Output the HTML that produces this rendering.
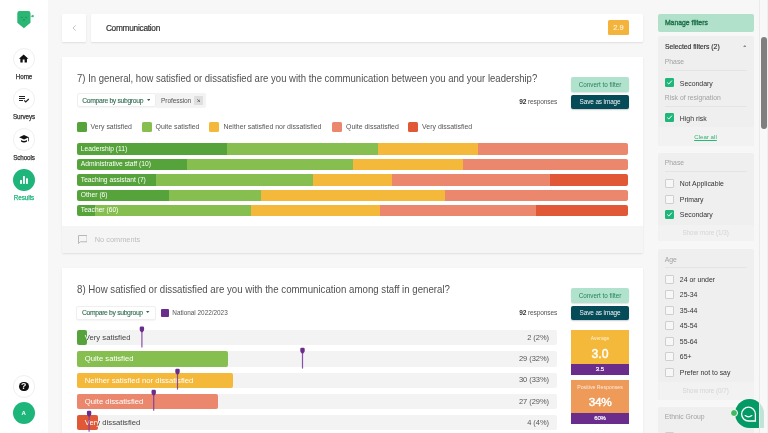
<!DOCTYPE html>
<html><head><meta charset="utf-8">
<style>
*{box-sizing:border-box;margin:0;padding:0}
html,body{width:768px;height:433px;overflow:hidden;background:#f7f7f7;font-family:"Liberation Sans",sans-serif;color:#555}
.a{position:absolute}
.t{position:absolute;white-space:nowrap;line-height:1}
#side{position:absolute;left:0;top:0;width:48px;height:433px;background:#fff}
.nav{position:absolute;left:12.5px;width:22.5px;height:22.5px;border-radius:50%;border:1px solid #f0f0f0;background:#fff}
.navl{position:absolute;left:0;width:48px;text-align:center;font-size:6.3px;letter-spacing:-0.1px;color:#333;line-height:1;-webkit-text-stroke:.25px currentColor}
.card{position:absolute;background:#fff;box-shadow:0 1px 2px rgba(0,0,0,.10);border-radius:2px}
.card.q{border-radius:0 0 2px 2px}
.btn1{position:absolute;background:#b1e2cd;color:#26835a;font-size:6.3px;padding-top:1.1px;text-align:center;border-radius:2px;box-shadow:0 1px 1.5px rgba(0,0,0,.12)}
.btn2{position:absolute;background:#064c58;color:#eef5f5;font-size:6.4px;letter-spacing:-0.1px;padding-top:.8px;text-align:center;border-radius:2px;box-shadow:0 1px 1.5px rgba(0,0,0,.2)}
.cmp{position:absolute;background:#fff;border:1px solid #efefef;border-radius:2px;box-shadow:0 1px 1px rgba(0,0,0,.04)}
.cmp span{position:absolute;font-size:6.8px;letter-spacing:-0.34px;color:#2f6b50;-webkit-text-stroke:.1px #2f6b50;line-height:1;white-space:nowrap}
.sq{position:absolute;width:10px;height:10px;border-radius:1.5px;margin-top:.4px}
.lg{position:absolute;margin-top:.8px;font-size:6.95px;color:#555;line-height:1;white-space:nowrap}
.bar{position:absolute;left:76.8px;width:551.7px;height:11.3px;border-radius:2px;overflow:hidden;display:flex}
.bar div{height:100%}
.bar span{position:absolute;left:4px;top:2.2px;font-size:6.7px;color:#fff;line-height:1;white-space:nowrap}
.dg{background:#57a33b}.lgn{background:#86be4f}.yl{background:#f4b83a}.sa{background:#ea876c}.rd{background:#e15836}
.trk{position:absolute;left:76.9px;width:480px;height:15.3px;background:#f3f3f3;border-radius:2px}
.fill{position:absolute;left:0;top:0;height:100%;border-radius:2px;overflow:hidden}
.lbl{position:absolute;left:7.9px;top:4.2px;font-size:7.7px;line-height:1;white-space:nowrap}
.cnt{position:absolute;right:7.9px;top:3.9px;font-size:7.5px;letter-spacing:-0.05px;line-height:1;color:#555;white-space:nowrap}
.mk{position:absolute;width:5px;height:21px}
.fp{position:absolute;left:657.8px;width:95.8px;background:#efefef;border-radius:2px}
.fh{position:absolute;left:7px;font-size:6.8px;color:#a2a2a2;line-height:1;white-space:nowrap}
.sep{position:absolute;left:7px;right:7px;height:1px;background:#e4e4e4}
.cb{position:absolute;left:7px;width:9px;height:9px;border:1px solid #cfcfcf;border-radius:1px;background:#f7f7f7}
.cb.on{background:#1fb679;border-color:#1fb679}
.cb.on svg{position:absolute;left:-1px;top:-1px}
.cl{position:absolute;left:22px;font-size:6.9px;color:#333;line-height:1;white-space:nowrap}
.sm{position:absolute;left:0;right:0;background:#f2f2f2;text-align:center;font-size:6.3px;color:#d5d5d5;line-height:1}
</style></head><body>
<div id="root" style="position:absolute;left:0;top:0;width:768px;height:433px;background:#f7f7f7;will-change:transform;overflow:hidden">

<!-- SIDEBAR -->
<div id="side">
  <svg class="a" style="left:0;top:0" width="40" height="32" viewBox="0 0 40 32">
    <path d="M19.8 11h8.4a2.3 2.3 0 0 1 2.3 2.3v9.4L23.9 28.2 17.3 22.7V13.3A2.3 2.3 0 0 1 19.6 11z" fill="#2bb673"/>
    <path d="M30.2 16.9 32.2 16.1" stroke="#7fd3a8" stroke-width="1.3"/>
    <path d="M32.8 14.8 34.1 16.1 32.8 17.4 31.5 16.1z" fill="#2bb673"/>
    <path d="M21 17.4h1.5M25.4 17.4h1.5" stroke="#1c9a5c" stroke-width=".9" stroke-linecap="round"/>
    <path d="M22.7 19.3h2.4q0 1.5-1.2 1.5t-1.2-1.5z" fill="#1c9a5c"/>
  </svg>

  <div class="nav" style="top:47.8px"></div>
  <svg class="a" style="left:18.2px;top:52.8px" width="11.3" height="11.3" viewBox="0 0 24 24"><path d="M10 20v-6h4v6h5v-8h3L12 3 2 12h3v8z" fill="#111"/></svg>
  <div class="navl" style="top:74.2px">Home</div>

  <div class="nav" style="top:87.8px"></div>
  <svg class="a" style="left:19px;top:95px" width="11" height="9" viewBox="0 0 11 9"><path d="M0 1.5h6M0 3.5h6M0 5.5h4" stroke="#222" stroke-width="1"/><path d="M5.2 5.4 6.7 6.9 9.8 4" stroke="#222" stroke-width="1.2" fill="none"/></svg>
  <div class="navl" style="top:114.4px">Surveys</div>

  <div class="nav" style="top:128px"></div>
  <svg class="a" style="left:18.8px;top:134.6px" width="10.5" height="8.5" viewBox="0 0 10.5 8.5"><path d="M5 0 .2 2.2 5 4.5 9.9 2.2z" fill="#111"/><path d="M2 5.1Q5 6.9 8 5.1V6.6Q5 8.5 2 6.6z" fill="#111"/><path d="M9.6 2.3v4" stroke="#111" stroke-width=".8"/></svg>
  <div class="navl" style="top:154.6px">Schools</div>

  <div class="a" style="left:12.5px;top:169.2px;width:22px;height:22px;border-radius:50%;background:#1eb57b"></div>
  <svg class="a" style="left:20px;top:176px" width="8" height="8" viewBox="0 0 8 8"><rect x="0.1" y="4" width="1.8" height="3.9" fill="#fff"/><rect x="3" y="0.1" width="1.9" height="7.8" fill="#fff"/><rect x="6" y="2.3" width="1.9" height="5.6" fill="#fff"/></svg>
  <div class="navl" style="top:194.8px;color:#1eb57b">Results</div>

  <div class="nav" style="top:375.3px"></div>
  <div class="a" style="left:18.9px;top:381.6px;width:9.8px;height:9.7px;border-radius:50%;background:#111;color:#f4f4f4;font-size:8.8px;font-weight:bold;text-align:center;line-height:9.9px">?</div>
  <div class="a" style="left:12.6px;top:401.8px;width:22.2px;height:22.2px;border-radius:50%;background:#1eb57b;color:#fff;font-size:6px;font-weight:bold;text-align:center;line-height:22.2px">A</div>
</div>

<!-- HEADER -->
<div class="card" style="left:62.3px;top:14.1px;width:23.9px;height:27.8px;border-radius:1px"></div>
<svg class="a" style="left:72px;top:24.6px" width="4.4" height="6" viewBox="0 0 4.4 6"><path d="M3.6.4 1 3l2.6 2.6" stroke="#c2c2c2" stroke-width="1" fill="none"/></svg>
<div class="card" style="left:91.1px;top:14.1px;width:552px;height:27.8px;border-radius:1.5px"></div>
<div class="t" style="left:105.9px;top:23.5px;font-size:8.3px;letter-spacing:-0.27px;color:#333;-webkit-text-stroke:.2px #333">Communication</div>
<div class="a" style="left:608px;top:20px;width:20.8px;height:14.7px;background:#f4b33b;border-radius:1.5px;color:#fdf3dc;font-size:7.4px;text-align:center;line-height:14.7px;padding-top:.8px;-webkit-text-stroke:.1px #fdf3dc">2.9</div>

<!-- CARD 1 -->
<div class="card q" style="left:62.3px;top:57px;width:580.8px;height:196.2px;overflow:hidden">
  <div class="a" style="left:0;top:169px;width:100%;height:28px;background:#f5f5f5"></div>
</div>
<div class="t" style="left:77px;top:73.8px;font-size:10.4px;transform:scaleX(0.918);transform-origin:0 0;color:#505050">7) In general, how satisfied or dissatisfied are you with the communication between you and your leadership?</div>
<div class="cmp" style="left:76.9px;top:93.2px;width:79.3px;height:14px"><span style="left:4.4px;top:3.6px">Compare by subgroup</span><svg class="a" style="left:68.8px;top:4.9px" width="3.4" height="2" viewBox="0 0 3.4 2"><path d="M0 0h3.4L1.7 2z" fill="#2d6b4e"/></svg></div>
<div class="a" style="left:156.2px;top:93.2px;width:49.5px;height:14px;background:#f3f3f3;border-radius:0 2px 2px 0;box-shadow:0 .5px 1px rgba(0,0,0,.05)"></div>
<div class="t" style="left:161px;top:98.3px;font-size:6.6px;letter-spacing:-0.1px;color:#555">Profession</div>
<div class="a" style="left:194px;top:96px;width:8.7px;height:8.7px;background:#dedede;border-radius:1px"><svg class="a" style="left:2.6px;top:2.9px" width="3.5" height="3.5" viewBox="0 0 3.5 3.5"><path d="M.3.3 3.2 3.2M3.2.3.3 3.2" stroke="#555" stroke-width=".8"/></svg></div>
<div class="t" style="left:519.3px;top:98.8px;font-size:6.6px;letter-spacing:-0.15px;color:#555"><b style="color:#333">92</b> responses</div>
<div class="btn1" style="left:571.3px;top:77.1px;width:57.5px;height:14.6px;line-height:14.6px">Convert to filter</div>
<div class="btn2" style="left:571.3px;top:94.5px;width:57.5px;height:14.1px;line-height:14.1px">Save as image</div>

<div class="sq dg" style="left:76.6px;top:121.4px"></div><div class="lg" style="left:90.6px;top:123px">Very satisfied</div>
<div class="sq lgn" style="left:141.5px;top:121.4px"></div><div class="lg" style="left:155.5px;top:123px">Quite satisfied</div>
<div class="sq yl" style="left:209.4px;top:121.4px"></div><div class="lg" style="left:223.5px;top:123px">Neither satisfied nor dissatisfied</div>
<div class="sq sa" style="left:332.2px;top:121.4px;width:9.6px"></div><div class="lg" style="left:346px;top:123px">Quite dissatisfied</div>
<div class="sq rd" style="left:408.4px;top:121.4px;width:9.6px"></div><div class="lg" style="left:422.1px;top:123px">Very dissatisfied</div>

<div class="bar" style="top:143.4px"><div class="dg" style="width:27.273%"></div><div class="lgn" style="width:27.273%"></div><div class="yl" style="width:18.182%"></div><div class="sa" style="width:27.273%"></div><span>Leadership (11)</span></div>
<div class="bar" style="top:158.9px"><div class="dg" style="width:20%"></div><div class="lgn" style="width:30%"></div><div class="yl" style="width:20%"></div><div class="sa" style="width:30%"></div><span>Administrative staff (10)</span></div>
<div class="bar" style="top:174.4px"><div class="dg" style="width:14.286%"></div><div class="lgn" style="width:28.571%"></div><div class="yl" style="width:14.286%"></div><div class="sa" style="width:28.571%"></div><div class="rd" style="width:14.286%"></div><span>Teaching assistant (7)</span></div>
<div class="bar" style="top:189.8px"><div class="dg" style="width:16.667%"></div><div class="lgn" style="width:16.667%"></div><div class="yl" style="width:33.333%"></div><div class="sa" style="width:33.333%"></div><span>Other (6)</span></div>
<div class="bar" style="top:205.2px"><div class="dg" style="width:3.333%"></div><div class="lgn" style="width:28.333%"></div><div class="yl" style="width:23.333%"></div><div class="sa" style="width:28.333%"></div><div class="rd" style="width:16.667%"></div><span>Teacher (60)</span></div>

<svg class="a" style="left:77.7px;top:234.5px" width="9.6" height="9.2" viewBox="0 0 9.6 9.2"><path d="M.5.5h8.6v6.3H2.3L.5 8.6z" stroke="#b8b8b8" stroke-width="1" fill="none"/></svg>
<div class="t" style="left:94.8px;top:235.6px;font-size:7.36px;color:#bdbdbd">No comments</div>

<!-- CARD 2 -->
<div class="card q" style="left:62.3px;top:268px;width:580.8px;height:180px"></div>
<div class="t" style="left:76.6px;top:284.9px;font-size:10.4px;transform:scaleX(0.931);transform-origin:0 0;color:#505050">8) How satisfied or dissatisfied are you with the communication among staff in general?</div>
<div class="cmp" style="left:76.2px;top:305.5px;width:79.7px;height:14px"><span style="left:4.8px;top:3.6px">Compare by subgroup</span><svg class="a" style="left:69.3px;top:4.9px" width="3.4" height="2" viewBox="0 0 3.4 2"><path d="M0 0h3.4L1.7 2z" fill="#2d6b4e"/></svg></div>
<div class="a" style="left:160.7px;top:308.8px;width:8px;height:7.8px;background:#6a2d8c;border-radius:1px"></div>
<div class="t" style="left:172.3px;top:309.6px;font-size:6.4px;color:#555">National 2022/2023</div>
<div class="t" style="left:519.3px;top:309.9px;font-size:6.6px;letter-spacing:-0.15px;color:#555"><b style="color:#333">92</b> responses</div>
<div class="btn1" style="left:571.3px;top:288.3px;width:57.5px;height:14.6px;line-height:14.6px">Convert to filter</div>
<div class="btn2" style="left:571.3px;top:305.7px;width:57.5px;height:14.1px;line-height:14.1px">Save as image</div>

<div class="trk" style="top:330.2px"><div class="lbl" style="color:#444">Very satisfied</div><div class="fill dg" style="width:10.4px"><div class="lbl" style="color:#fff">Very satisfied</div></div><div class="cnt">2 (2%)</div></div>
<div class="trk" style="top:351.3px"><div class="lbl" style="color:#444">Quite satisfied</div><div class="fill lgn" style="width:151.3px"><div class="lbl" style="color:#fff">Quite satisfied</div></div><div class="cnt">29 (32%)</div></div>
<div class="trk" style="top:372.5px"><div class="lbl" style="color:#444">Neither satisfied nor dissatisfied</div><div class="fill yl" style="width:156.5px"><div class="lbl" style="color:#fff">Neither satisfied nor dissatisfied</div></div><div class="cnt">30 (33%)</div></div>
<div class="trk" style="top:393.8px"><div class="lbl" style="color:#444">Quite dissatisfied</div><div class="fill sa" style="width:140.9px"><div class="lbl" style="color:#fff">Quite dissatisfied</div></div><div class="cnt">27 (29%)</div></div>
<div class="trk" style="top:415px"><div class="lbl" style="color:#444">Very dissatisfied</div><div class="fill rd" style="width:20.9px"><div class="lbl" style="color:#fff">Very dissatisfied</div></div><div class="cnt">4 (4%)</div></div>

<!-- markers -->
<svg class="a" style="left:0;top:0" width="768" height="433">
  <defs><g id="mk" fill="#6a2d8c">
    <rect x="-.6" y="4.5" width="1.2" height="16.5" rx=".6" fill="#7a3f9e" fill-opacity=".9"/>
    <path d="M-2.2 1.4Q-2.2 0-.9 0H.9Q2.2 0 2.2 1.4V3.2Q2.2 4.4 1.1 5.2L.6 5.7H-.6L-1.1 5.2Q-2.2 4.4-2.2 3.2Z"/>
  </g></defs>
  <use href="#mk" x="141.9" y="326.6"/>
  <use href="#mk" x="302.5" y="347.7"/>
  <use href="#mk" x="177.5" y="368.7"/>
  <use href="#mk" x="153.7" y="389.8"/>
  <use href="#mk" x="89.1" y="410.8"/>
</svg>

<!-- Avg boxes -->
<div class="a" style="left:571px;top:330.3px;width:58px;height:33.9px;background:#f4b83a;color:#fff;text-align:center">
  <div class="t" style="left:0;width:58px;top:5.9px;font-size:5px;color:#fdf0d5">Average</div>
  <div class="t" style="left:0;width:58px;top:17.6px;font-size:12.2px;-webkit-text-stroke:.45px #fff">3.0</div>
</div>
<div class="a" style="left:571px;top:364.2px;width:58px;height:10.8px;background:#6a2d8c;color:#fff;text-align:center;font-size:6px;line-height:10.8px;-webkit-text-stroke:.2px #fff">3.5</div>
<div class="a" style="left:571px;top:379.6px;width:58px;height:33.4px;background:#ee9a59;color:#fff;text-align:center">
  <div class="t" style="left:0;width:58px;top:5.2px;font-size:5.2px;color:#fdeadb">Positive Responses</div>
  <div class="t" style="left:0;width:58px;top:17.2px;font-size:11.8px;letter-spacing:-0.3px;-webkit-text-stroke:.45px #fff">34%</div>
</div>
<div class="a" style="left:571px;top:413px;width:58px;height:11.4px;background:#6a2d8c;color:#fff;text-align:center;font-size:6px;letter-spacing:-0.2px;line-height:11.4px;-webkit-text-stroke:.2px #fff">60%</div>

<!-- FILTER PANEL -->
<div class="a" style="left:657.8px;top:13.9px;width:95.8px;height:17.8px;background:#b1e1ca;border-radius:2px"></div>
<div class="t" style="left:664.9px;top:19.8px;font-size:6.85px;color:#1f7049;-webkit-text-stroke:.35px #1f7049">Manage filters</div>

<div class="fp" style="top:35.7px;height:110.1px">
  <div class="t" style="left:7.1px;top:8.0px;font-size:6.8px;color:#333;-webkit-text-stroke:.15px #333">Selected filters (2)</div>
  <svg class="a" style="left:84.9px;top:9.7px" width="3.8" height="2" viewBox="0 0 3.8 2"><path d="M0 2h3.8L1.9 0z" fill="#8a8a8a"/></svg>
  <div class="fh" style="top:23.5px">Phase</div>
  <div class="sep" style="top:34.7px"></div>
  <div class="cb on" style="top:42.3px"><svg width="9" height="9" viewBox="0 0 9 9"><path d="M2.3 4.6 3.8 6 6.9 2.6" stroke="#fff" stroke-width="1" fill="none"/></svg></div>
  <div class="cl" style="top:44.9px">Secondary</div>
  <div class="fh" style="top:59.3px">Risk of resignation</div>
  <div class="sep" style="top:70.5px"></div>
  <div class="cb on" style="top:77.8px"><svg width="9" height="9" viewBox="0 0 9 9"><path d="M2.3 4.6 3.8 6 6.9 2.6" stroke="#fff" stroke-width="1" fill="none"/></svg></div>
  <div class="cl" style="top:80.2px">High risk</div>
  <div class="sm" style="top:91.7px;height:18.4px"></div>
  <div class="t" style="left:36.4px;top:98.6px;font-size:6.16px;color:#2bb673;text-decoration:underline">Clear all</div>
</div>

<div class="fp" style="top:152.6px;height:88.9px">
  <div class="fh" style="top:7.9px">Phase</div>
  <div class="sep" style="top:18.9px"></div>
  <div class="cb" style="top:26.6px"></div><div class="cl" style="top:28.5px">Not Applicable</div>
  <div class="cb" style="top:42px"></div><div class="cl" style="top:44px">Primary</div>
  <div class="cb on" style="top:57.4px"><svg width="9" height="9" viewBox="0 0 9 9"><path d="M2.3 4.6 3.8 6 6.9 2.6" stroke="#fff" stroke-width="1" fill="none"/></svg></div><div class="cl" style="top:59.4px">Secondary</div>
  <div class="sm" style="top:72px;height:16.9px;line-height:16.9px">Show more (1/3)</div>
</div>

<div class="fp" style="top:248.8px;height:150.8px">
  <div class="fh" style="top:7.9px">Age</div>
  <div class="sep" style="top:18.4px"></div>
  <div class="cb" style="top:26.3px"></div><div class="cl" style="top:28.3px">24 or under</div>
  <div class="cb" style="top:41.6px"></div><div class="cl" style="top:43.6px">25-34</div>
  <div class="cb" style="top:56.9px"></div><div class="cl" style="top:58.9px">35-44</div>
  <div class="cb" style="top:72.2px"></div><div class="cl" style="top:74.2px">45-54</div>
  <div class="cb" style="top:88.3px"></div><div class="cl" style="top:90.3px">55-64</div>
  <div class="cb" style="top:103.3px"></div><div class="cl" style="top:105.3px">65+</div>
  <div class="cb" style="top:119px"></div><div class="cl" style="top:121px">Prefer not to say</div>
  <div class="sm" style="top:133.4px;height:17.4px;line-height:17.4px">Show more (0/7)</div>
</div>

<div class="fp" style="top:406.5px;height:40px">
  <div class="fh" style="top:7.8px">Ethnic Group</div>
  <div class="cb" style="top:25.4px"></div>
</div>

<!-- chat widget -->
<div class="a" style="left:734.6px;top:399px;width:29px;height:29px;background:#039a66;border-radius:50% 50% 0 50%"></div>
<svg class="a" style="left:740px;top:405px" width="18" height="18" viewBox="0 0 18 18"><path d="M8.5 2.2A6.9 6.9 0 0 0 1.6 9.1 6.9 6.9 0 0 0 8.5 16H15.4V9.1A6.9 6.9 0 0 0 8.5 2.2Z" stroke="#fff" stroke-width="1.3" fill="none"/><path d="M5.1 10.6Q8.5 13 11.9 10.6" stroke="#fff" stroke-width="1.2" fill="none" stroke-linecap="round"/></svg>
<div class="a" style="left:729.7px;top:409px;width:8px;height:8px;border-radius:50%;background:#43b862;border:1.5px solid #fff"></div>

<!-- scrollbar -->
<div class="a" style="left:759.2px;top:0;width:1px;height:433px;background:#eaeaea"></div>
<div class="a" style="left:760.2px;top:0;width:7.8px;height:433px;background:rgba(248,248,248,.78)"></div>
<div class="a" style="left:767.2px;top:0;width:.8px;height:433px;background:rgba(236,236,236,.8)"></div>
<div class="a" style="left:761.1px;top:36.7px;width:5.7px;height:92.1px;background:#7f7f7f;border-radius:3px"></div>

</div>
</body></html>
